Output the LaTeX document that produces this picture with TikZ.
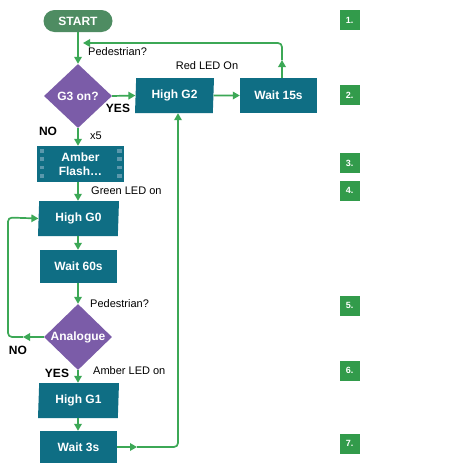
\documentclass[tikz,border=0pt]{standalone}
\usepackage{fontspec}
\setmainfont{Liberation Sans}
\usetikzlibrary{shapes.geometric,arrows.meta,calc}
\definecolor{tealbox}{HTML}{0F6E84}
\definecolor{purp}{HTML}{7B5CA8}
\definecolor{startgreen}{HTML}{4E8C62}
\definecolor{arrgreen}{HTML}{3CA856}
\definecolor{numgreen}{HTML}{329B4B}
\definecolor{filmsq}{HTML}{5A98AC}
\tikzset{
  boxtxt/.style={text=white,font=\bfseries\fontsize{12}{13.5}\selectfont},
  procbox/.style={boxtxt,rectangle,fill=tealbox,inner sep=0pt},
  iobox/.style={boxtxt,trapezium,trapezium left angle=84,trapezium right angle=96,trapezium stretches body,fill=tealbox,inner sep=0pt},
  decision/.style={diamond,fill=purp,inner sep=0pt},
  startbox/.style={boxtxt,rectangle,rounded corners=11pt,fill=startgreen,inner sep=0pt},
  numbox/.style={rectangle,fill=numgreen,minimum width=20pt,minimum height=20pt,inner sep=0pt,text=white,font=\bfseries\fontsize{9}{10}\selectfont},
  lbl/.style={font=\fontsize{11}{12}\selectfont,inner sep=0pt},
  yn/.style={font=\bfseries\fontsize{12}{13}\selectfont,inner sep=0pt},
  tip/.style={-{Triangle[length=7pt,width=7.5pt]}},
  flow/.style={draw=arrgreen,line width=1.7pt,tip},
  flowline/.style={draw=arrgreen,line width=1.7pt,rounded corners=4pt},
}
\begin{document}
\begin{tikzpicture}[x=1pt,y=-1pt]
\useasboundingbox[fill=white] (0,0) rectangle (474,474);
% nodes
\node[startbox,minimum width=69pt,minimum height=22pt] (start) at (78,21) {START};
\node[decision,minimum width=68pt,minimum height=64pt,label={[boxtxt]center:G3 on?}] (d1) at (78,96) {};
\node[iobox,minimum width=79pt,minimum height=35pt] (g2) at (174.5,95.5) {High G2};
\node[procbox,minimum width=77pt,minimum height=35pt] (w15) at (278.5,95.5) {Wait 15s};
\node[procbox,minimum width=87pt,minimum height=36pt,align=center] (af) at (80.5,164) {Amber\\Flash\ldots};
\foreach \yy in {149,157.3,165.6,173.9}{
  \fill[filmsq] (39.5,\yy) rectangle ++(4.5,3.8);
  \fill[filmsq] (117,\yy) rectangle ++(4.5,3.8);
}
\node[iobox,minimum width=81pt,minimum height=35pt] (g0) at (78.5,218.5) {High G0};
\node[procbox,minimum width=77pt,minimum height=33pt] (w60) at (78.5,266.5) {Wait 60s};
\node[decision,minimum width=68pt,minimum height=66pt,label={[boxtxt]center:Analogue}] (d2) at (78,337) {};
\node[iobox,minimum width=81pt,minimum height=35pt] (g1) at (78.5,400.5) {High G1};
\node[procbox,minimum width=77pt,minimum height=32pt] (w3) at (78.5,447) {Wait 3s};
% numbered boxes
\node[numbox] (n1) at (349.5,20) {1.};
\node[numbox] (n2) at (349.5,95) {2.};
\node[numbox] (n3) at (349.5,163) {3.};
\node[numbox] (n4) at (349.5,190.5) {4.};
\node[numbox] (n5) at (349.5,305.5) {5.};
\node[numbox] (n6) at (349.5,370.5) {6.};
\node[numbox] (n7) at (349.5,443.5) {7.};
% labels
\node[lbl,anchor=west] (l1) at (88,52) {Pedestrian?};
\node[lbl] (l2) at (207,66) {Red LED On};
\node[yn] (l3) at (118,108) {YES};
\node[yn] (l4) at (48,131) {NO};
\node[lbl] (l5) at (96,136) {x5};
\node[lbl,anchor=west] (l6) at (91,191) {Green LED on};
\node[lbl,anchor=west] (l7) at (90,304) {Pedestrian?};
\node[yn] (l8) at (18,350) {NO};
\node[yn] (l9) at (57,373) {YES};
\node[lbl,anchor=west] (l10) at (93,371) {Amber LED on};
% coordinates
\coordinate (c1) at (282,60);
\coordinate (c2) at (83,43);
\coordinate (c3) at (23,337);
\coordinate (c4) at (137,447);
% connectors
\draw[flow] (w15.north -| c1) -- (c1);
\draw[flowline,tip] (c1) -- (282,43) -- (c2);
\draw[flow] (start.south) -- (d1.north);
\draw[flow] (d1.east) -- (g2.west);
\draw[flow] (g2.east) -- (w15.west);
\draw[flow] (d1.south) -- (af.north -| d1.south);
\draw[flow] (af.south -| d1.south) -- (g0.north -| d1.south);
\draw[flow] (g0.south -| d1.south) -- (w60.north -| d1.south);
\draw[flow] (w60.south -| d1.south) -- (d2.north);
\draw[flow] (d2.west) -- (c3);
\draw[flowline,tip] (c3) -- (8,337) -- (8,217.5) -- (g0.west);
\draw[flow] (d2.south) -- (g1.north -| d2.south);
\draw[flow] (g1.south -| d2.south) -- (w3.north -| d2.south);
\draw[flow] (w3.east) -- (c4);
\draw[flowline,tip] (c4) -- (178,447) -- (g2.south -| 178,0);
\end{tikzpicture}
\end{document}
